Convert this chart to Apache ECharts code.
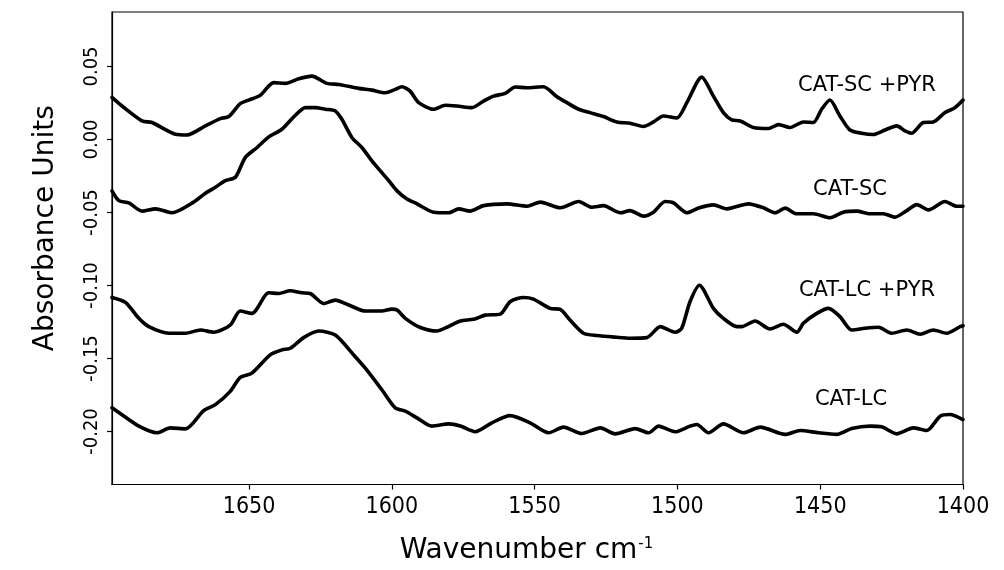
<!DOCTYPE html>
<html>
<head>
<meta charset="utf-8">
<script src="https://cdn.jsdelivr.net/npm/echarts@6/dist/echarts.min.js"></script>
<style>
  html, body { margin: 0; padding: 0; background: #fff; }
  #chart { width: 1004px; height: 570px; }
</style>
</head>
<body>
<div id="chart"></div>
<script>
// tick labels
var xTicks = [1650, 1600, 1550, 1500, 1450, 1400];
var yTicks = [-0.20, -0.15, -0.10, -0.05, 0.00, 0.05];

// CAT-SC +PYR
var scPyrWn = [1698,1694.5,1687.5,1684,1675.8,1671.7,1665.3,1660.1,1657.1,1653.1,1650.1,1646.1,1641.4,1637.3,1632.6,1628,1622.7,1618.6,1611.6,1607,1602.3,1598.8,1596.5,1593.6,1590.6,1585.4,1581.3,1577.2,1572,1567.9,1564.4,1560.3,1556.8,1552.7,1546.9,1542.2,1538.7,1534.6,1530.6,1525.9,1521.2,1516.6,1511.9,1508.4,1504.9,1500.2,1496.7,1491.5,1487.4,1483.9,1481,1478,1473.4,1468.1,1464.6,1460.6,1455.9,1452.4,1449.5,1446.6,1443.1,1439.6,1435.5,1431.4,1427.3,1423.2,1420.3,1418,1413.9,1410.4,1406.3,1402.8,1400];
var scPyrAbs = [0.0288,0.0229,0.0127,0.0116,0.0036,0.0031,0.0093,0.0143,0.0157,0.0245,0.0270,0.0302,0.0389,0.0384,0.0416,0.0434,0.0384,0.0377,0.0350,0.0338,0.0320,0.0343,0.0361,0.0331,0.0252,0.0207,0.0234,0.0229,0.0218,0.0263,0.0297,0.0316,0.0359,0.0354,0.0361,0.0293,0.0252,0.0207,0.0184,0.0157,0.0120,0.0111,0.0089,0.0120,0.0161,0.0147,0.0252,0.0427,0.0297,0.0184,0.0134,0.0127,0.0082,0.0075,0.0102,0.0082,0.0120,0.0116,0.0207,0.0270,0.0161,0.0065,0.0043,0.0034,0.0065,0.0093,0.0059,0.0043,0.0116,0.0120,0.0184,0.0218,0.0270];

// CAT-SC
var scWn = [1698,1695.6,1692.1,1687.5,1682.8,1677,1669.4,1665.3,1661.8,1658.3,1654.8,1651.3,1647.2,1643.1,1638.5,1633.8,1630.3,1626.8,1623.3,1619.8,1617.5,1614,1610.5,1607,1601.1,1598.2,1594.7,1591.2,1585.4,1580.1,1576.6,1572.6,1567.9,1559.7,1552.7,1548,1541,1534.6,1530,1525.9,1520,1516.6,1511.9,1508.4,1504.3,1501.4,1496.7,1492.6,1487.4,1482.7,1475.1,1469.9,1465.8,1462.3,1458.2,1452.4,1446.6,1441.9,1437.2,1432.6,1427.9,1423.8,1419.7,1416.2,1412.1,1406.3,1402.2,1400];
var scAbs = [-0.0352,-0.0419,-0.0434,-0.0491,-0.0475,-0.0502,-0.0429,-0.0368,-0.0327,-0.0282,-0.0259,-0.0123,-0.0055,0.0018,0.0070,0.0166,0.0218,0.0218,0.0207,0.0195,0.0138,0.0014,-0.0055,-0.0146,-0.0282,-0.0352,-0.0407,-0.0441,-0.0498,-0.0502,-0.0475,-0.0491,-0.0453,-0.0441,-0.0457,-0.0429,-0.0468,-0.0425,-0.0464,-0.0453,-0.0502,-0.0487,-0.0525,-0.0498,-0.0425,-0.0434,-0.0502,-0.0470,-0.0448,-0.0475,-0.0441,-0.0468,-0.0502,-0.0470,-0.0509,-0.0509,-0.0536,-0.0498,-0.0491,-0.0509,-0.0509,-0.0532,-0.0487,-0.0446,-0.0482,-0.0425,-0.0457,-0.0457];

// CAT-LC +PYR
var lcPyrWn = [1698,1693.3,1688.6,1685.1,1678.1,1672.3,1667,1662.4,1656.6,1653.1,1649,1643.1,1639.6,1635.6,1631.5,1628.6,1623.9,1619.8,1615.1,1609.3,1603.5,1600,1598.2,1595.3,1590,1584.2,1580.7,1576,1571.4,1567.3,1562,1558.6,1553.9,1550.4,1544.6,1541,1537.6,1532.9,1528.2,1521.2,1516.6,1510.7,1506,1500.8,1498.5,1495.6,1492.3,1487.4,1483.9,1479.2,1477.5,1472.8,1467.6,1462.9,1458.2,1455.9,1451.2,1447.1,1443.1,1439,1434.3,1429.6,1425,1419.7,1415,1410.4,1405.7,1401,1400];
var lcPyrAbs = [-0.1082,-0.1116,-0.1225,-0.1282,-0.1327,-0.1327,-0.1305,-0.1320,-0.1271,-0.1175,-0.1191,-0.1050,-0.1055,-0.1036,-0.1050,-0.1055,-0.1123,-0.1100,-0.1134,-0.1175,-0.1175,-0.1162,-0.1168,-0.1225,-0.1288,-0.1312,-0.1286,-0.1243,-0.1232,-0.1203,-0.1196,-0.1111,-0.1082,-0.1093,-0.1157,-0.1164,-0.1237,-0.1327,-0.1343,-0.1355,-0.1361,-0.1357,-0.1282,-0.1320,-0.1293,-0.1111,-0.0998,-0.1157,-0.1225,-0.1282,-0.1282,-0.1243,-0.1298,-0.1266,-0.1320,-0.1259,-0.1191,-0.1157,-0.1213,-0.1305,-0.1293,-0.1286,-0.1327,-0.1305,-0.1334,-0.1305,-0.1327,-0.1282,-0.1276];

// CAT-LC
var lcWn = [1698,1695,1688.6,1682.2,1677.6,1672.3,1665.9,1661.8,1656.6,1653.1,1649,1642.6,1638.5,1635.6,1630.9,1625.6,1619.8,1613.4,1609.3,1603.5,1598.8,1595.3,1591.2,1586,1580.1,1576,1570.8,1565,1558.6,1551.6,1545.1,1539.9,1533.5,1527,1521.8,1514.8,1510.1,1506.6,1500.8,1495.6,1493.2,1489.1,1483.9,1476.9,1471,1462.3,1457,1450.6,1444.2,1439,1432.6,1428.5,1423.2,1417.4,1412.7,1408,1404.6,1400];
var lcAbs = [-0.1838,-0.1879,-0.1963,-0.2009,-0.1975,-0.1982,-0.1857,-0.1816,-0.1725,-0.1629,-0.1600,-0.1475,-0.1441,-0.1430,-0.1357,-0.1312,-0.1339,-0.1475,-0.1566,-0.1714,-0.1838,-0.1861,-0.1907,-0.1963,-0.1948,-0.1963,-0.2002,-0.1941,-0.1891,-0.1941,-0.2009,-0.1970,-0.2014,-0.1975,-0.2016,-0.1980,-0.2009,-0.1963,-0.2002,-0.1963,-0.1952,-0.2009,-0.1948,-0.2009,-0.1970,-0.2020,-0.1993,-0.2009,-0.2020,-0.1980,-0.1963,-0.1968,-0.2016,-0.1975,-0.1993,-0.1895,-0.1884,-0.1918];

var pair = function (wn, abs) {
  return wn.map(function (w, i) { return [w, abs[i]]; });
};

var lineSeries = function (name, data) {
  return {
    name: name,
    type: 'line',
    data: data,
    showSymbol: false,
    silent: true,
    smooth: 0.25,
    lineStyle: { color: '#000', width: 3.6, cap: 'round', join: 'round' }
  };
};

var labelText = function (text, x, y) {
  return {
    type: 'text',
    x: x,
    y: y,
    style: {
      text: text,
      fill: '#000',
      font: '21px "DejaVu Sans"',
      align: 'center',
      verticalAlign: 'middle'
    }
  };
};

var chart = echarts.init(document.getElementById('chart'));
chart.setOption({
  animation: false,
  backgroundColor: '#fff',
  grid: {
    left: 112, right: 41, top: 12, bottom: 83,
    show: true, borderColor: '#000', borderWidth: 1.2
  },
  xAxis: {
    type: 'value',
    inverse: true,
    min: 1400,
    max: 1698,
    name: '{b|Wavenumber cm}{s|-1}',
    nameLocation: 'middle',
    nameGap: 52,
    nameTextStyle: {
      padding: [0, 22, 0, 0],
      rich: {
        b: { fontFamily: 'DejaVu Sans', fontSize: 28, color: '#000' },
        s: { fontFamily: 'DejaVu Sans', fontSize: 15, color: '#000', padding: [0, 0, 14, 1] }
      }
    },
    splitLine: { show: false },
    axisLine: { onZero: false, lineStyle: { color: '#000', width: 1.2 } },
    axisTick: { customValues: xTicks, length: 5, lineStyle: { color: '#000', width: 1.2 } },
    axisLabel: {
      customValues: xTicks,
      margin: 11,
      color: '#000',
      fontSize: 23,
      fontFamily: '"DejaVu Sans Condensed", "DejaVu Sans"',
      formatter: function (v) { return String(v); }
    }
  },
  yAxis: {
    type: 'value',
    min: -0.2363,
    max: 0.0873,
    name: 'Absorbance Units',
    nameLocation: 'middle',
    nameRotate: 90,
    nameGap: 52,
    nameTextStyle: {
      fontFamily: 'DejaVu Sans', fontSize: 28, color: '#000',
      padding: [0, 0, 0, 40]
    },
    splitLine: { show: false },
    axisLine: { onZero: false, lineStyle: { color: '#000', width: 1.2 } },
    axisTick: { customValues: yTicks, length: 5, lineStyle: { color: '#000', width: 1.2 } },
    axisLabel: {
      customValues: yTicks,
      rotate: 90,
      margin: 10,
      color: '#000',
      fontSize: 20,
      fontFamily: '"DejaVu Sans Condensed", "DejaVu Sans"',
      formatter: function (v) { return v.toFixed(2); }
    }
  },
  series: [
    lineSeries('CAT-SC +PYR', pair(scPyrWn, scPyrAbs)),
    lineSeries('CAT-SC', pair(scWn, scAbs)),
    lineSeries('CAT-LC +PYR', pair(lcPyrWn, lcPyrAbs)),
    lineSeries('CAT-LC', pair(lcWn, lcAbs))
  ],
  graphic: [
    labelText('CAT-SC +PYR', 867, 86),
    labelText('CAT-SC', 850, 190),
    labelText('CAT-LC +PYR', 867, 291),
    labelText('CAT-LC', 851, 400)
  ]
});
</script>
</body>
</html>
